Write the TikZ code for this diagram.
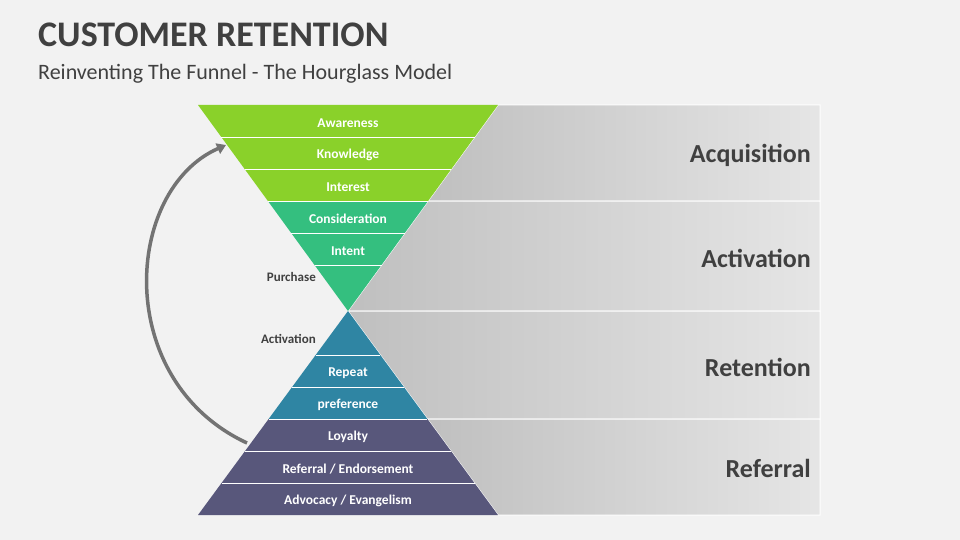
\documentclass[tikz,border=0pt]{standalone}
\usepackage{fontspec}
\setmainfont{Carlito}
\usetikzlibrary{arrows.meta}
\definecolor{bg}{HTML}{F2F2F2}
\definecolor{dark}{HTML}{404040}
\definecolor{lg}{HTML}{8AD12A}
\definecolor{gg}{HTML}{34BF7F}
\definecolor{tl}{HTML}{2F85A3}
\definecolor{pp}{HTML}{58577B}
\begin{document}
\begin{tikzpicture}[x=1pt,y=-1pt,
  band/.style={draw=white,line width=0.9pt},
  blab/.style={text=white,font=\fontsize{13.5}{13.5}\selectfont\bfseries,inner sep=0},
  side/.style={text=dark,font=\fontsize{13}{13}\selectfont\bfseries,anchor=east,inner sep=0},
  panel/.style={left color=gray!50,right color=gray!20,draw=white,line width=1pt},
  plab/.style={text=dark,font=\fontsize{26}{26}\selectfont\bfseries,anchor=east,inner sep=0}]
\fill[bg] (0,0) rectangle (960,540);
\useasboundingbox (0,0) rectangle (960,540);
\node[anchor=west,text=dark,font=\fontsize{36}{36}\selectfont\bfseries,inner sep=0] (title) at (38,35) {CUSTOMER RETENTION};
\node[anchor=west,text=dark,font=\fontsize{22}{22}\selectfont,inner sep=0] (sub) at (38,74) {Reinventing The Funnel - The Hourglass Model};
% panels
\shade[panel] (498,105) -- (820,105) -- (820,201) -- (428.1,201) -- cycle;
\shade[panel] (428.1,201) -- (820,201) -- (820,311) -- (348,311) -- cycle;
\shade[panel] (348,311) -- (820,311) -- (820,419) -- (427.4,419) -- cycle;
\shade[panel] (427.4,419) -- (820,419) -- (820,515) -- (498,515) -- cycle;
\node[plab] (pa) at (811,155) {Acquisition};
\node[plab] (pb) at (811,258) {Activation};
\node[plab] (pc) at (811,367) {Retention};
\node[plab] (pd) at (811,468) {Referral};
% funnel
\fill[lg] (198,105) -- (498,105) -- (428.1,201) -- (267.9,201) -- cycle;
\fill[gg] (267.9,201) -- (428.1,201) -- (348,311) -- cycle;
\fill[tl] (348,311) -- (427.4,419) -- (268.6,419) -- cycle;
\fill[pp] (268.6,419) -- (427.4,419) -- (498,515) -- (198,515) -- cycle;
\draw[band] (221.3,137) -- (474.7,137);
\draw[band] (244.6,169) -- (451.4,169);
\draw[band] (267.9,201) -- (428.1,201);
\draw[band] (291.2,233) -- (404.8,233);
\draw[band] (314.5,265) -- (381.5,265);
\draw[band] (315.6,355) -- (380.4,355);
\draw[band] (292.1,387) -- (403.9,387);
\draw[band] (268.6,419) -- (427.4,419);
\draw[band] (245.1,451) -- (450.9,451);
\draw[band] (221.5,483) -- (474.5,483);
\node[blab] (l1) at (348,123) {Awareness};
\node[blab] (l2) at (348,155) {Knowledge};
\node[blab] (l3) at (348,187) {Interest};
\node[blab] (l4) at (348,219) {Consideration};
\node[blab] (l5) at (348,251) {Intent};
\node[blab] (l6) at (348,373) {Repeat};
\node[blab] (l7) at (348,405) {preference};
\node[blab] (l8) at (348,437) {Loyalty};
\node[blab] (l9) at (348,469) {Referral / Endorsement};
\node[blab] (l10) at (348,501) {Advocacy / Evangelism};
\node[side] (s1) at (316,277) {Purchase};
\node[side] (s2) at (316,339) {Activation};
% arrow
\coordinate (a0) at (247,443);
\coordinate (a1) at (226,145);
\draw[gray!90!black,line width=3.5pt,-{Triangle[length=9pt,width=11pt]}] (a0) .. controls (112,380) and (124,190) .. (a1);
\end{tikzpicture}
\end{document}
